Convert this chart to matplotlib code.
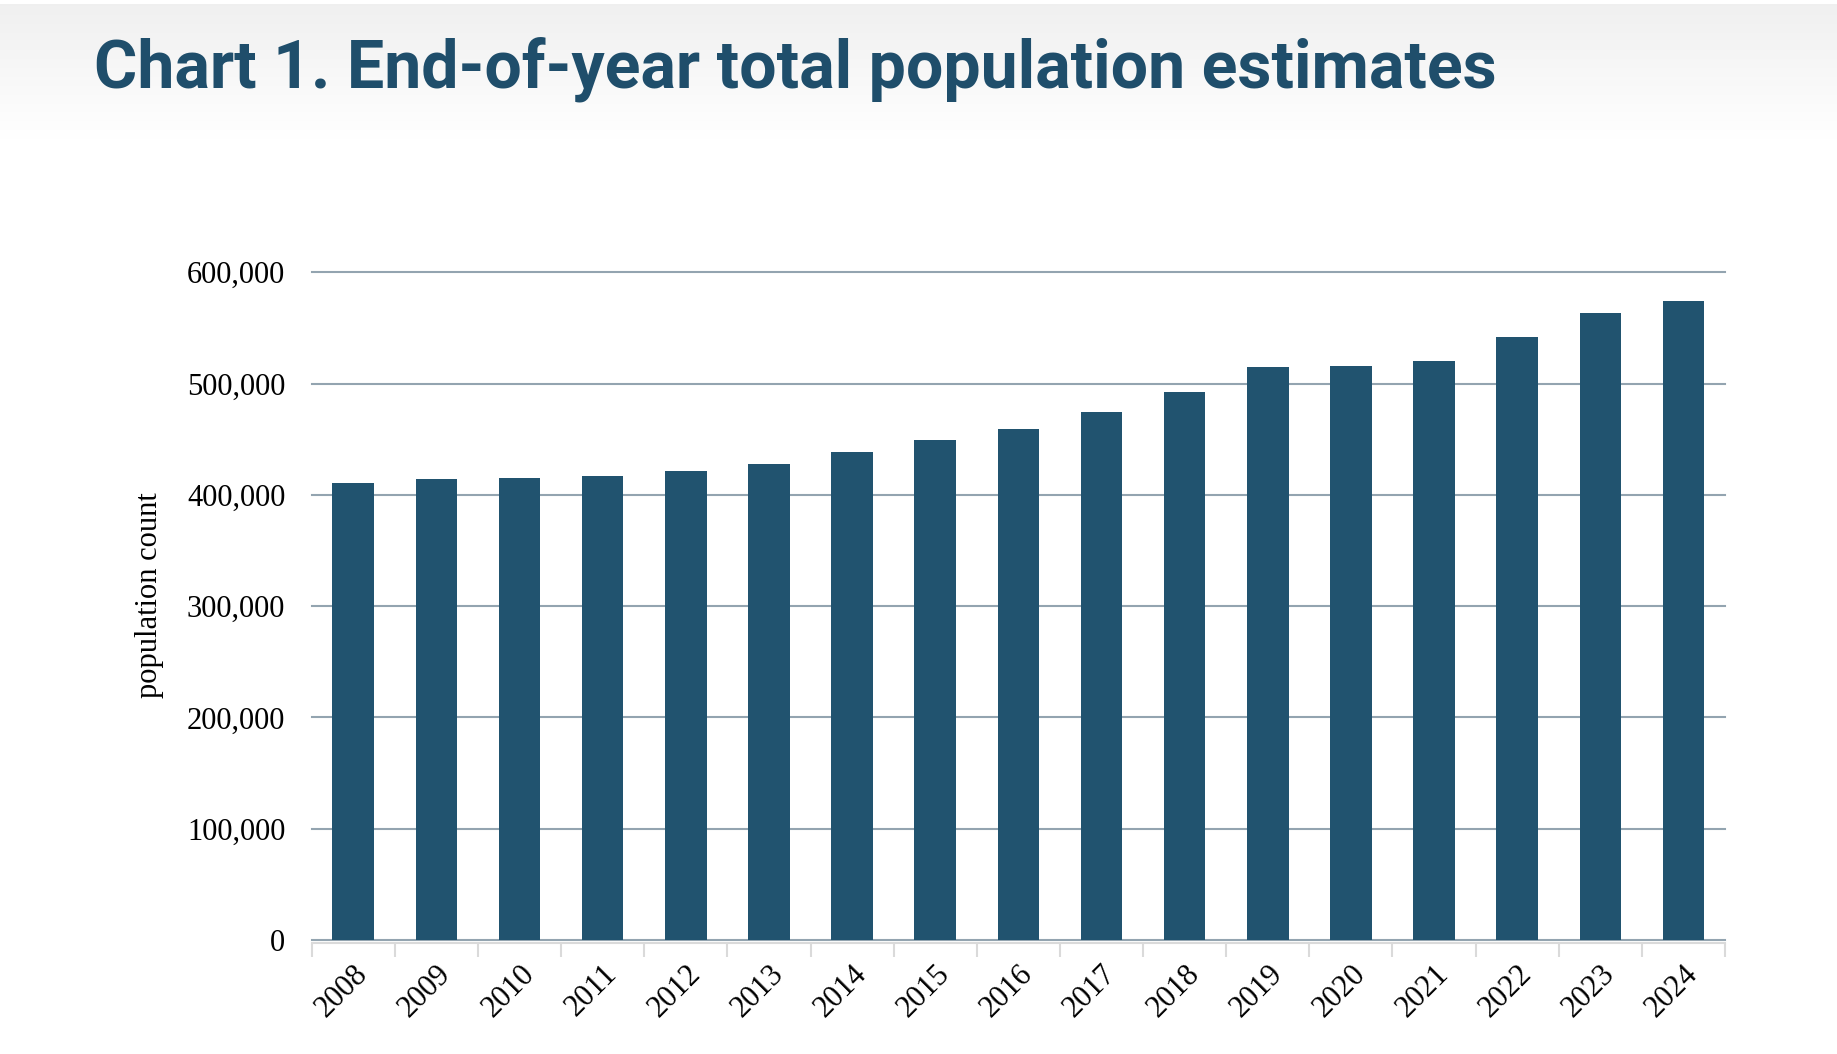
import numpy as np
import matplotlib
matplotlib.use("Agg")
import matplotlib.pyplot as plt
from matplotlib.ticker import FixedLocator

# data
years = ["2008", "2009", "2010", "2011", "2012", "2013", "2014", "2015", "2016",
         "2017", "2018", "2019", "2020", "2021", "2022", "2023", "2024"]
population = [410700, 414000, 414900, 417300, 421500, 428100, 438900, 449700, 458900,
              474800, 492800, 514500, 516000, 520000, 541800, 563300, 573800]
y_ticks = [0, 100000, 200000, 300000, 400000, 500000, 600000]

bar_color = "#21536f"
title_color = "#1f4e6b"
grid_color = "#93a4b0"
W, H = 1837, 1054
label_font = dict(family="Liberation Serif", size=22, color="black")

fig = plt.figure(figsize=(W / 100, H / 100), dpi=100)

# light gray fade at the top of the card
bg = fig.add_axes([0, 0, 1, 1], zorder=-10)
rows = np.linspace(0, 1, H)
shade = np.clip(rows / 0.14, 0, 1)
val = 0.935 + (1 - 0.935) * shade
val[:4] = 1.0
img = np.repeat(val[:, None], 2, axis=1)
bg.imshow(img, cmap="gray", vmin=0, vmax=1, aspect="auto", extent=[0, 1, 1, 0])
bg.axis("off")

fig.text(94 / W, 1 - 88 / H, "Chart 1. End-of-year total population estimates",
         family="Roboto", weight="bold", fontsize=47.7, color=title_color,
         ha="left", va="baseline")

left, right = 311.7, 1725
top, bottom = 272.3, 940
ax = fig.add_axes([left / W, 1 - bottom / H, (right - left) / W, (bottom - top) / H])
ax.set_facecolor("none")

# spine position first: it resets the tick objects
for s in ["top", "right", "left"]:
    ax.spines[s].set_visible(False)
ax.spines["bottom"].set_position(("outward", 2))
ax.spines["bottom"].set_color("#dadada")
ax.spines["bottom"].set_linewidth(1.5)

x = np.arange(len(years))
ax.bar(x, population, width=0.5, color=bar_color, zorder=3)

ax.set_xlim(-0.5, len(years) - 0.5)
ax.set_ylim(0, 600000)

ax.set_yticks(y_ticks)
ax.set_yticklabels([f"{v:,}" for v in y_ticks], fontdict=label_font)
ax.set_xticks(x)
ax.set_xticklabels(years, rotation=45, ha="right", rotation_mode="anchor",
                   fontdict=label_font)
ax.xaxis.set_minor_locator(FixedLocator(np.arange(-0.5, len(years), 1.0)))

ax.tick_params(axis="x", which="major", length=0, pad=12)
ax.tick_params(axis="x", which="minor", length=10, width=1.5, color="#dadada")
ax.tick_params(axis="y", length=0, pad=19)

ax.grid(axis="y", color=grid_color, linewidth=1.5, zorder=1)
for gl in ax.get_ygridlines():
    gl.set_clip_on(False)

fig.text(150 / W, 1 - 595 / H, "population count", rotation=90,
         ha="center", va="center", fontdict=label_font)

fig.savefig("out.png", dpi=100)
